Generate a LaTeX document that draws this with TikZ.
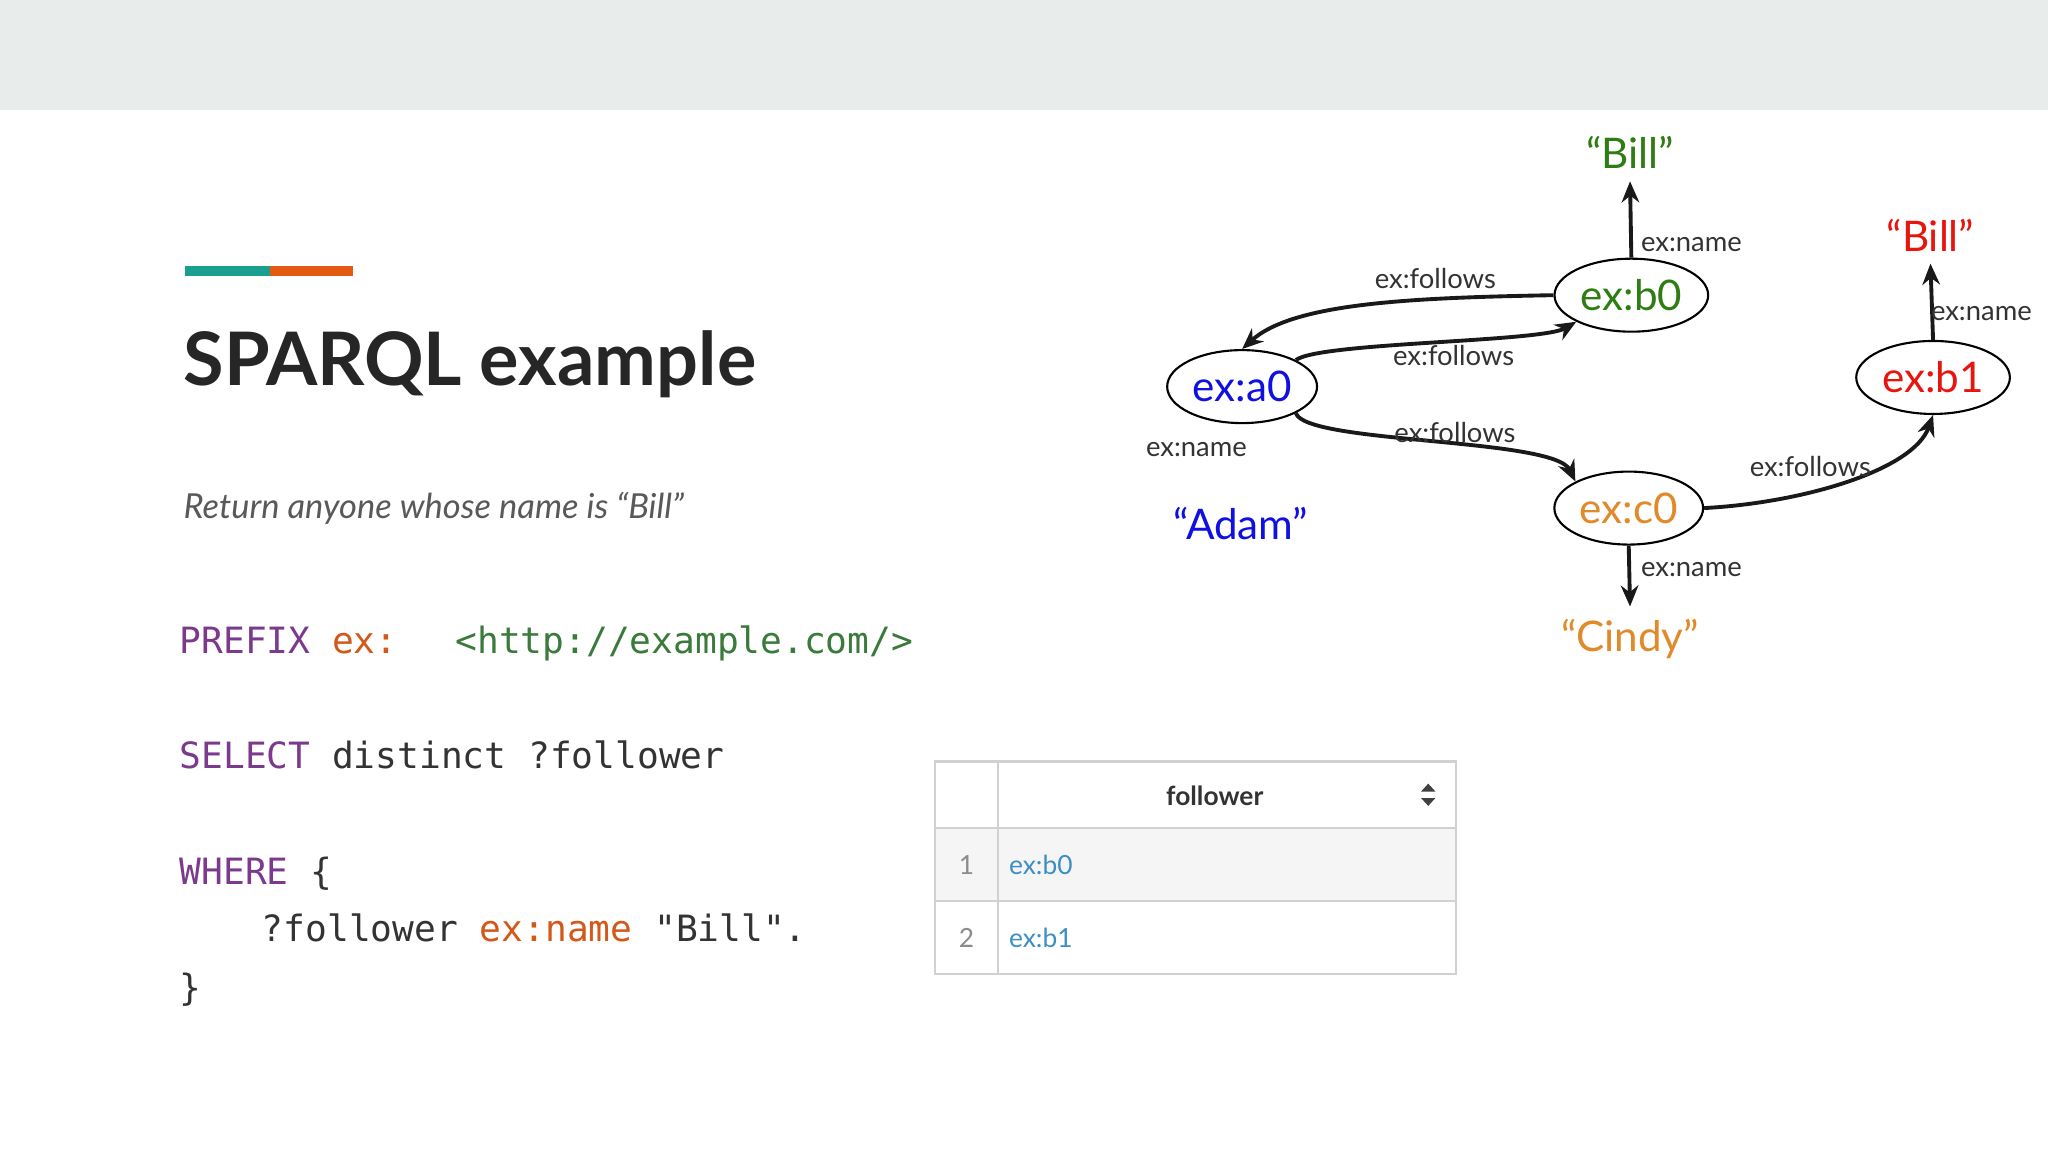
\documentclass[tikz,border=0pt]{standalone}
\usepackage{fontspec}
\setmainfont{Lato}
\setmonofont{DejaVu Sans Mono}
\usetikzlibrary{shapes.geometric,arrows.meta}
\definecolor{band}{HTML}{E8ECEB}
\definecolor{teal}{HTML}{1A9E8F}
\definecolor{orng}{HTML}{E35B12}
\definecolor{gr}{HTML}{2E7D12}
\definecolor{rd}{HTML}{E8140E}
\definecolor{bl}{HTML}{1010E0}
\definecolor{og}{HTML}{E08A2A}
\definecolor{kw}{HTML}{7B3A8C}
\definecolor{pfx}{HTML}{D2591A}
\definecolor{url}{HTML}{3A7A3A}
\definecolor{cellblue}{HTML}{3B8FC4}
\tikzset{
 x=0.013061cm,y=-0.013061cm,
 nd/.style={ellipse,draw,line width=0.6pt,minimum width=84\pgfmathresult,inner sep=1pt,font=\fontsize{12}{12}\selectfont},
 lit/.style={font=\fontsize{12}{12}\selectfont},
 lab/.style={font=\fontsize{7.8}{8}\selectfont,text=black!80},
 arr/.style={-{Stealth[length=6pt,width=5pt]},line width=1.1pt,black!90},
 code/.style={anchor=base west,font=\ttfamily\fontsize{10.3}{12}\selectfont,inner sep=0},
 cell/.style={font=\fontsize{7.5}{8}\selectfont}
}
\begin{document}
\begin{tikzpicture}
\useasboundingbox (0,0) rectangle (1568,882);
\fill[white] (0,0) rectangle (1568,882);
\fill[band] (0,0) rectangle (1568,84);
\fill[teal] (142,204) rectangle (207,211);
\fill[orng] (207,204) rectangle (270,211);
\node[anchor=base west,inner sep=0,font=\bfseries\fontsize{21}{24}\selectfont,text=black!85] (title) at (140,295) {SPARQL example};
\node[anchor=base west,inner sep=0,font=\itshape\fontsize{9.8}{12}\selectfont,text=black!65] (sub) at (140,397) {Return anyone whose name is “Bill”};
\node[code] (l1) at (137,500) {\textcolor{kw}{PREFIX} \textcolor{pfx}{ex:}\hspace{1.6em}\textcolor{url}{<http://example.com/>}};
\node[code] (l2) at (137,588) {\textcolor{kw}{SELECT} \textcolor{black!80}{distinct ?follower}};
\node[code] (l3) at (137,677) {\textcolor{kw}{WHERE} \textcolor{black!80}{\{}};
\node[code] (l4) at (200,721) {\textcolor{black!80}{?follower} \textcolor{pfx}{ex:name} \textcolor{black!80}{"Bill".}};
\node[code] (l5) at (137,766) {\textcolor{black!80}{\}}};
% table
\fill[black!4] (716,634) rectangle (1115,690);
\draw[black!18,line width=0.6pt] (716,583) rectangle (1115,746) (716,634) -- (1115,634) (716,690) -- (1115,690) (764,583) -- (764,746);
\node[cell,font=\bfseries\fontsize{7.5}{8}\selectfont,text=black!80] (h) at (930,609) {follower};
\fill[black!75] (1088,606) -- (1099,606) -- (1093.5,600) -- cycle (1088,611) -- (1099,611) -- (1093.5,617) -- cycle;
\node[cell,text=black!45] (n1) at (740,662) {1};
\node[cell,text=black!45] (n2) at (740,718) {2};
\node[cell,anchor=west,text=cellblue,inner sep=0] (c1) at (772,662) {ex:b0};
\node[cell,anchor=west,text=cellblue,inner sep=0] (c2) at (772,718) {ex:b1};
% graph
\node[nd,text=bl,minimum width=1.07cm,minimum height=0.73cm] (a0) at (951,296) {ex:a0};
\node[nd,text=gr,minimum width=1.12cm,minimum height=0.73cm] (b0) at (1249,226) {ex:b0};
\node[nd,text=og,minimum width=1.07cm,minimum height=0.73cm] (c0) at (1247,389) {ex:c0};
\node[nd,text=rd,minimum width=1.12cm,minimum height=0.73cm] (b1) at (1480,289) {ex:b1};
\node[lit,text=gr] (bill1) at (1248,117) {“Bill”};
\node[lit,text=rd] (bill2) at (1478,180) {“Bill”};
\node[lit,text=bl] (adam) at (950,401) {“Adam”};
\node[lit,text=og] (cindy) at (1248,489) {“Cindy”};
\draw[arr] (b0.north) -- (bill1.south);
\draw[arr] (b1.north) -- (bill2.south);
\draw[arr] (c0.south) -- (cindy.north);
\draw[arr] (b0.west) .. controls (1080,228) and (990,232) .. (a0.north);
\draw[arr] (a0.north east) .. controls (1010,262) and (1180,262) .. (b0.south west);
\draw[arr] (a0.south east) .. controls (1000,340) and (1190,335) .. (c0.north west);
\draw[arr] (c0.east) .. controls (1380,385) and (1465,360) .. (b1.south);
\node[lab] (lf1) at (1099,213) {ex:follows};
\node[lab] (lf2) at (1113,272) {ex:follows};
\node[lab] (lf3) at (1114,331) {ex:follows};
\node[lab] (lf4) at (1386,357) {ex:follows};
\node[lab] (ln1) at (1295,187) {ex:name};
\node[lab] (ln2) at (1517,240) {ex:name};
\node[lab] (ln3) at (1295,436) {ex:name};
\node[lab] (ln4) at (916,344) {ex:name};
\end{tikzpicture}
\end{document}
